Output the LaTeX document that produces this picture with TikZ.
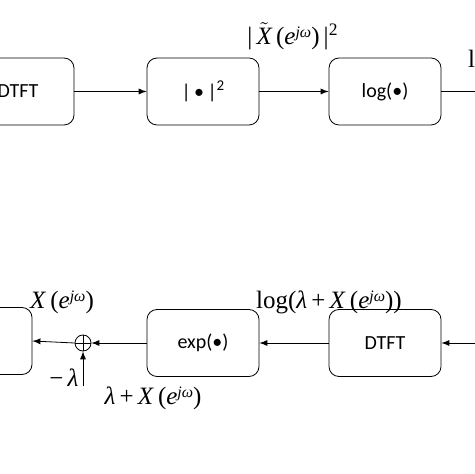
\documentclass[tikz,border=0pt]{standalone}
\usepackage{fontspec}
\setmainfont{Carlito}
\newfontfamily\tms{Liberation Serif}
\usetikzlibrary{shapes,arrows}
\newcommand\ejw{\textit{e}\raisebox{0.6ex}{\fontsize{8}{8}\selectfont\textit{jω}}}
\newcommand\Xt{$\tilde{\hbox{\tms\itshape X}}$}

\begin{document}
\begin{tikzpicture}[x=0.5pt,y=-0.5pt,
  blk/.style={draw, thin, rounded corners=5pt, minimum width=56pt, minimum height=33.5pt, font=\fontsize{10}{12}\selectfont},
  lbl/.style={font=\tms\fontsize{12.5}{14}\selectfont},
  sig/.style={thin, -latex}]
\useasboundingbox (0,0) rectangle (474,474);
% upper chain
\node[blk] (dtftA) at (18,91.5) {DTFT};
\node[blk] (sq) at (203,91.5) {|\,•\,|\raisebox{0.8ex}{\fontsize{7.5}{8}\selectfont 2}};
\node[blk] (lg) at (385,91.5) {log(•)};
\coordinate (outA) at (490,91.5);
\draw [sig] (dtftA.east) -- (sq.west);
\draw [sig] (sq.east) -- (lg.west);
\draw [thin] (lg.east) -- (outA);
\node[lbl] (magsq) at (293,36) {|\,\Xt\,(\ejw)\,|\textsuperscript{2}};
\node[lbl, anchor=west] (logmag) at (461,59) {log|\,\Xt\,(\ejw)\,|\textsuperscript{2}};
% lower chain
\coordinate (inB) at (490,343);
\node[blk] (dtftB) at (385,343) {DTFT};
\node[blk] (ex) at (203,343) {exp(•)};
\node[draw, thin, circle, inner sep=0pt, minimum size=8pt] (sum) at (83,343) {};
\draw [thin] (sum.north) -- (sum.south);
\draw [thin] (sum.west) -- (sum.east);
\node[blk] (outB) at (-24,341) {};
\coordinate (lam) at (83,386);
\draw [sig] (inB) -- (dtftB.east);
\draw [sig] (dtftB.west) -- (ex.east);
\draw [sig] (ex.west) -- (sum.east);
\draw [sig] (sum.west) -- (outB.east);
\draw [sig] (lam) -- (sum.south);
\node[lbl] (loglam) at (329,302) {log(\textit{λ}\,+\,\textit{X}\,(\ejw))};
\node[lbl] (xe) at (62,302) {\textit{X}\,(\ejw)};
\node[lbl] (mlam) at (64,378) {−\,\textit{λ}};
\node[lbl] (lamx) at (153,398) {\textit{λ}\,+\,\textit{X}\,(\ejw)};
\end{tikzpicture}
\end{document}
